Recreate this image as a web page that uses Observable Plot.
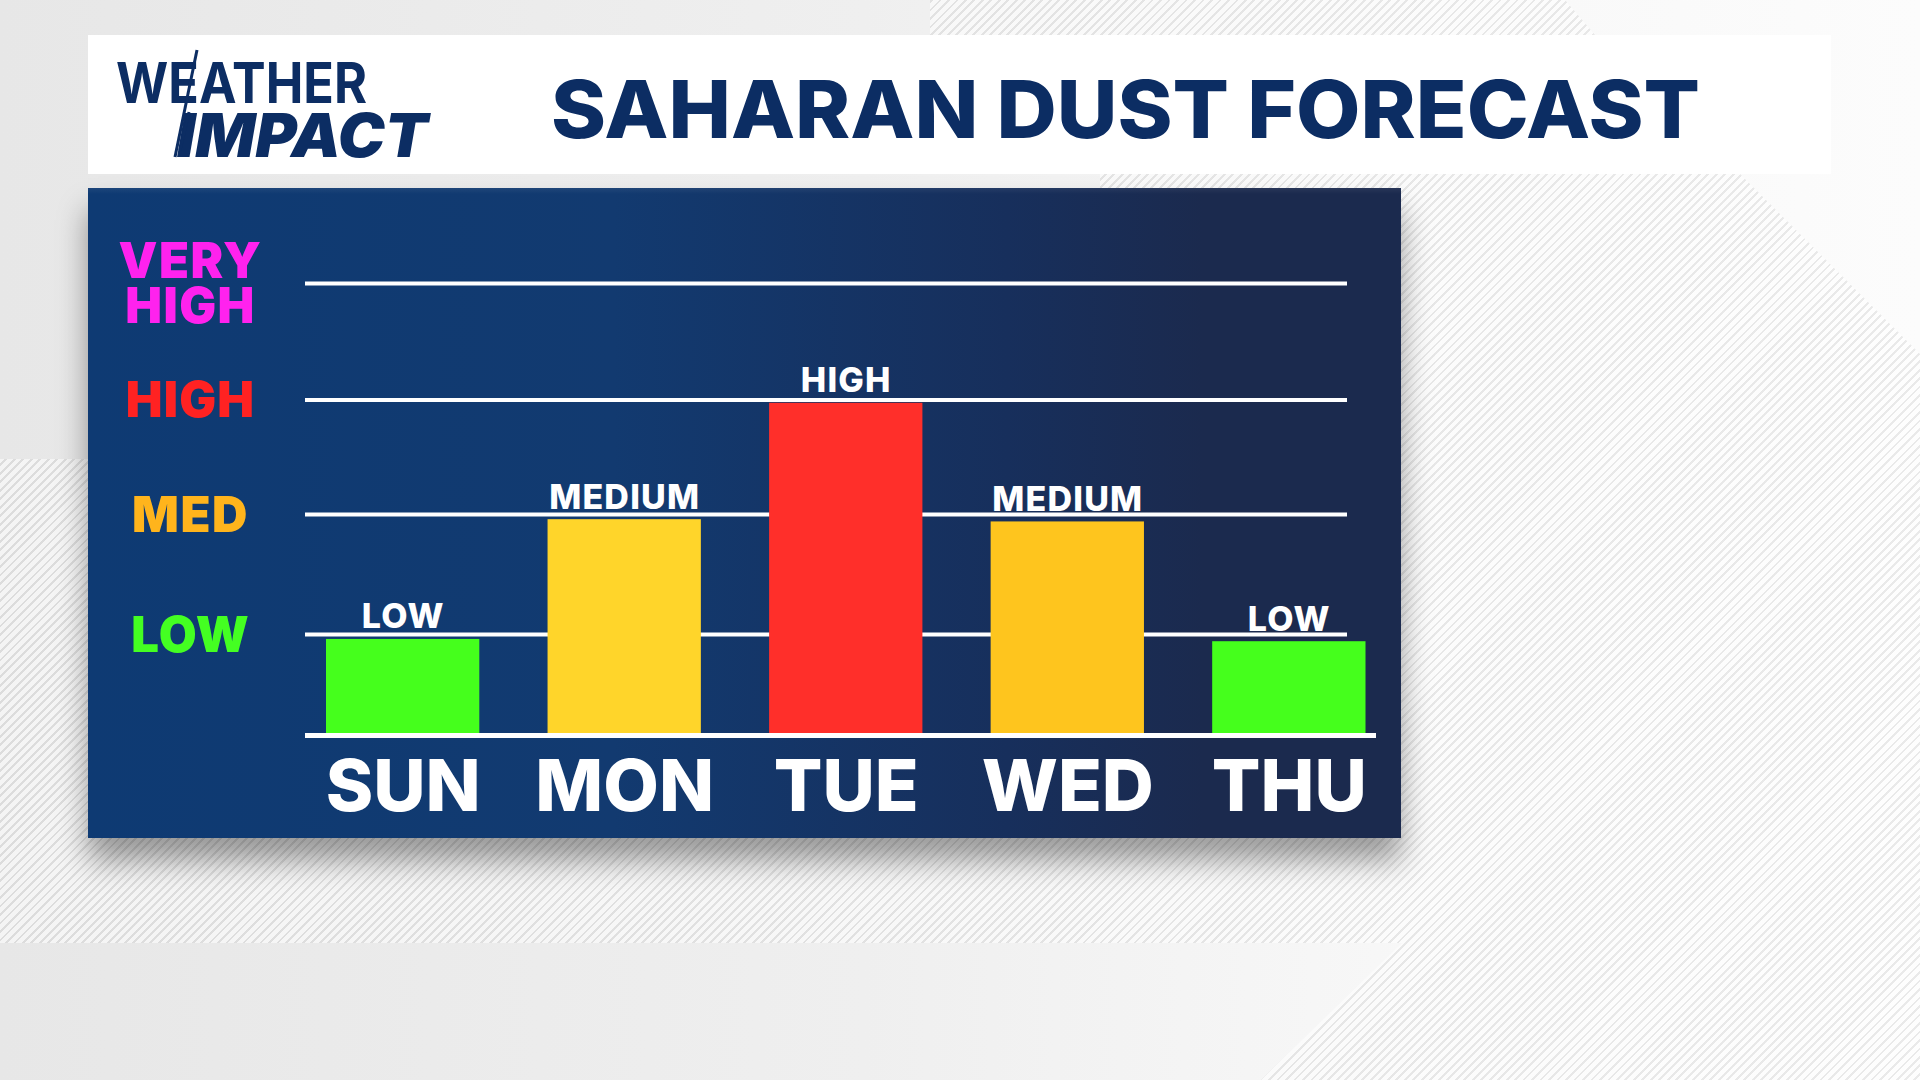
<!DOCTYPE html>
<html><head><meta charset="utf-8">
<script src="https://cdn.jsdelivr.net/npm/d3@7"></script>
<script src="https://cdn.jsdelivr.net/npm/@observablehq/plot@0.6"></script>
<style>
html,body{margin:0;padding:0;width:1920px;height:1080px;overflow:hidden;}
body{position:relative;background:linear-gradient(90deg,#e7e7e7 0%,#efefef 45%,#f8f8f8 75%,#fcfcfc 100%);font-family:Inter,"Noto Sans",sans-serif;}
.stripes{position:absolute;left:0;top:0;width:1920px;height:1080px;
  background:repeating-linear-gradient(135deg,rgba(255,255,255,0.55) 0 4px,rgba(200,200,200,0.35) 4px 6px);}
#s1{clip-path:polygon(930px 0,1565px 0,1595px 35px,930px 35px);}
#s2{clip-path:polygon(1100px 174px,1740px 174px,1920px 354px,1920px 1080px,1261px 1080px,1402px 943px,0 943px,0 459px,1100px 459px);}
#header{position:absolute;left:88px;top:35px;width:1743px;height:139px;background:#fff;}
#headsvg{position:absolute;left:0;top:0;}
#panel{position:absolute;left:88px;top:188px;width:1313px;height:650px;
  background:linear-gradient(180deg,rgba(255,255,255,0.06) 0,rgba(255,255,255,0) 6px),linear-gradient(90deg,#0e3a73 0%,#123a70 40%,#172f5c 70%,#1b2a4e 85%,#1b2a4e 100%);
  box-shadow:0 22px 28px rgba(0,0,0,0.38);}
#panel svg{position:absolute;left:0;top:0;}
</style></head>
<body>
<div class="stripes" id="s1"></div>
<div class="stripes" id="s2"></div>
<div id="header"></div>
<svg id="headsvg" width="1920" height="200">
  <g fill="#0c2d63" font-family="Inter, 'Noto Sans', sans-serif">
    <text x="116" y="103" font-size="56" font-weight="700" textLength="251" lengthAdjust="spacingAndGlyphs">WEATHER</text>
    <text x="177" y="157" font-size="60" font-weight="900" font-style="italic" textLength="251" lengthAdjust="spacingAndGlyphs">IMPACT</text>
    <text x="551" y="138" font-size="80" font-weight="800" textLength="1149" lengthAdjust="spacingAndGlyphs">SAHARAN DUST FORECAST</text>
  </g>
  <g stroke="#0c2d63" stroke-width="3">
    <line x1="197" y1="50" x2="175" y2="157"/>
    <line x1="189" y1="112" x2="180" y2="150"/>
  </g>
</svg>
<div id="panel"></div>
<script>
const days = ["SUN", "MON", "TUE", "WED", "THU"];
const dustValues = [0.85, 1.91, 2.94, 1.89, 0.83];
const dustLabels = ["LOW", "MEDIUM", "HIGH", "MEDIUM", "LOW"];
const barColors = ["#45ff1c", "#ffd52a", "#ff2f2a", "#fec51e", "#45ff1c"];
const levelValues = [0.894, 1.956, 2.969, 4.0];
const levelNames = ["LOW", "MED", "HIGH", "VERY\nHIGH"];
const levelColors = ["#44ff22", "#ffb41c", "#ff2222", "#ff22ee"];

const bars = days.map((d, i) => ({day: d, value: dustValues[i], label: dustLabels[i], color: barColors[i]}));
const levels = levelValues.map((v, i) => ({value: v, name: levelNames[i], color: levelColors[i]}));

const chart = Plot.plot({
  width: 1313, height: 650,
  marginLeft: 238, marginRight: 35.5, marginTop: 95, marginBottom: 103,
  style: {background: "transparent", overflow: "visible", fontFamily: "Inter, 'Noto Sans', sans-serif"},
  x: {domain: days, paddingInner: 0.308, paddingOuter: 0, round: false, axis: null},
  y: {domain: [0, 4], axis: null},
  color: {type: "identity"},
  marks: [
    Plot.ruleY(levels, {y: "value", stroke: "white", strokeWidth: 4, insetLeft: -21, insetRight: 18.5}),
    Plot.barY(bars, {x: "day", y: "value", fill: "color"}),
    Plot.ruleY([0], {stroke: "white", strokeWidth: 5, insetLeft: -21, insetRight: -10.5}),
    Plot.text(bars, {x: "day", y: "value", text: "label", fill: "white", fontSize: 34, fontWeight: 800, lineAnchor: "bottom", dy: -11}),
    Plot.text(levels, {y: "value", text: "name", fill: "color", frameAnchor: "left", textAnchor: "middle", dx: -136, dy: 3, fontSize: 49, fontWeight: 900, lineHeight: 0.92}),
    Plot.text(days, {x: d => d, text: d => d, fill: "white", frameAnchor: "bottom", lineAnchor: "top", dy: 24, fontSize: 72, fontWeight: 800})
  ]
});
// widen the letter spacing of bar and level labels to match the broadcast typeface
d3.select(chart).selectAll("text").each(function() {
  const t = this.textContent;
  if (dustLabels.includes(t)) this.style.letterSpacing = "1.2px";
  if (levelNames.some(n => n.split("\n").includes(t)) && !dustLabels.includes(t)) this.style.letterSpacing = "1.5px";
});
d3.select(chart).selectAll("tspan").style("letter-spacing", "1.5px");
document.getElementById("panel").appendChild(chart);
</script>
</body></html>
